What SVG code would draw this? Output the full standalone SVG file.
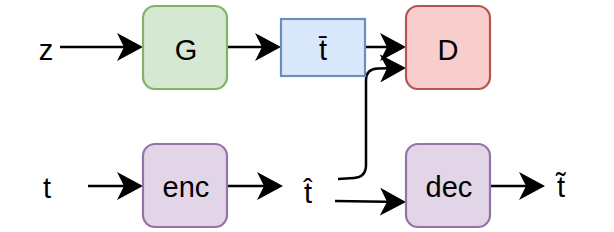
<svg xmlns="http://www.w3.org/2000/svg" width="614" height="232" viewBox="0 0 614 232">
<style>
.lbl{font-family:"Liberation Sans",Arial,sans-serif;font-size:29px;fill:#000;text-anchor:middle}
.box{stroke-width:2.2}
.edge{fill:none;stroke:#000;stroke-width:2.5;marker-end:url(#arr)}
</style>
<defs>
<marker id="arr" markerUnits="userSpaceOnUse" viewBox="0 0 26 28" refX="22" refY="14" markerWidth="26" markerHeight="28" orient="auto">
<path d="M0,0 L26,14 L0,28 L7,14 Z" fill="#000"/>
</marker>
</defs>
<rect width="614" height="232" fill="#fff"/>
<g id="connectors">
<path class="edge" d="M60,47 L139,47"/>
<path class="edge" d="M227,47 L277,47"/>
<path class="edge" d="M365,47 L402,47"/>
<path class="edge" d="M338,179 L354,178 Q366,177 366,165 L366,80 Q366,69 378,68.5 L402,68"/>
<path class="edge" d="M88,186 L139,186"/>
<path class="edge" d="M228,186 L279,186"/>
<path class="edge" d="M335,201 L402,202"/>
<path class="edge" d="M490,186 L541,186"/>
</g>
<g id="z"><text class="lbl" x="46" y="60">z</text></g>
<g id="G"><rect class="box" x="143" y="6" width="84" height="83" rx="12" fill="#d5e8d4" stroke="#82b366"/><text class="lbl" x="186" y="60">G</text></g>
<g id="tbar"><rect class="box" x="281" y="19" width="84" height="57" fill="#dae8fc" stroke="#6c8ebf"/><text class="lbl" x="323" y="60">t̄</text></g>
<g id="D"><rect class="box" x="406" y="6" width="84" height="83" rx="12" fill="#f8cecc" stroke="#b85450"/><text class="lbl" x="448" y="60">D</text></g>
<g id="t"><text class="lbl" x="47" y="198">t</text></g>
<g id="enc"><rect class="box" x="143" y="144" width="84" height="83" rx="12" fill="#e1d5e7" stroke="#9673a6"/><text class="lbl" x="186" y="197">enc</text></g>
<g id="that"><text class="lbl" x="308" y="203">t̂</text></g>
<g id="dec"><rect class="box" x="406" y="144" width="84" height="83" rx="12" fill="#e1d5e7" stroke="#9673a6"/><text class="lbl" x="449" y="197">dec</text></g>
<g id="ttilde"><text class="lbl" x="561" y="197">t̃</text></g>
</svg>
